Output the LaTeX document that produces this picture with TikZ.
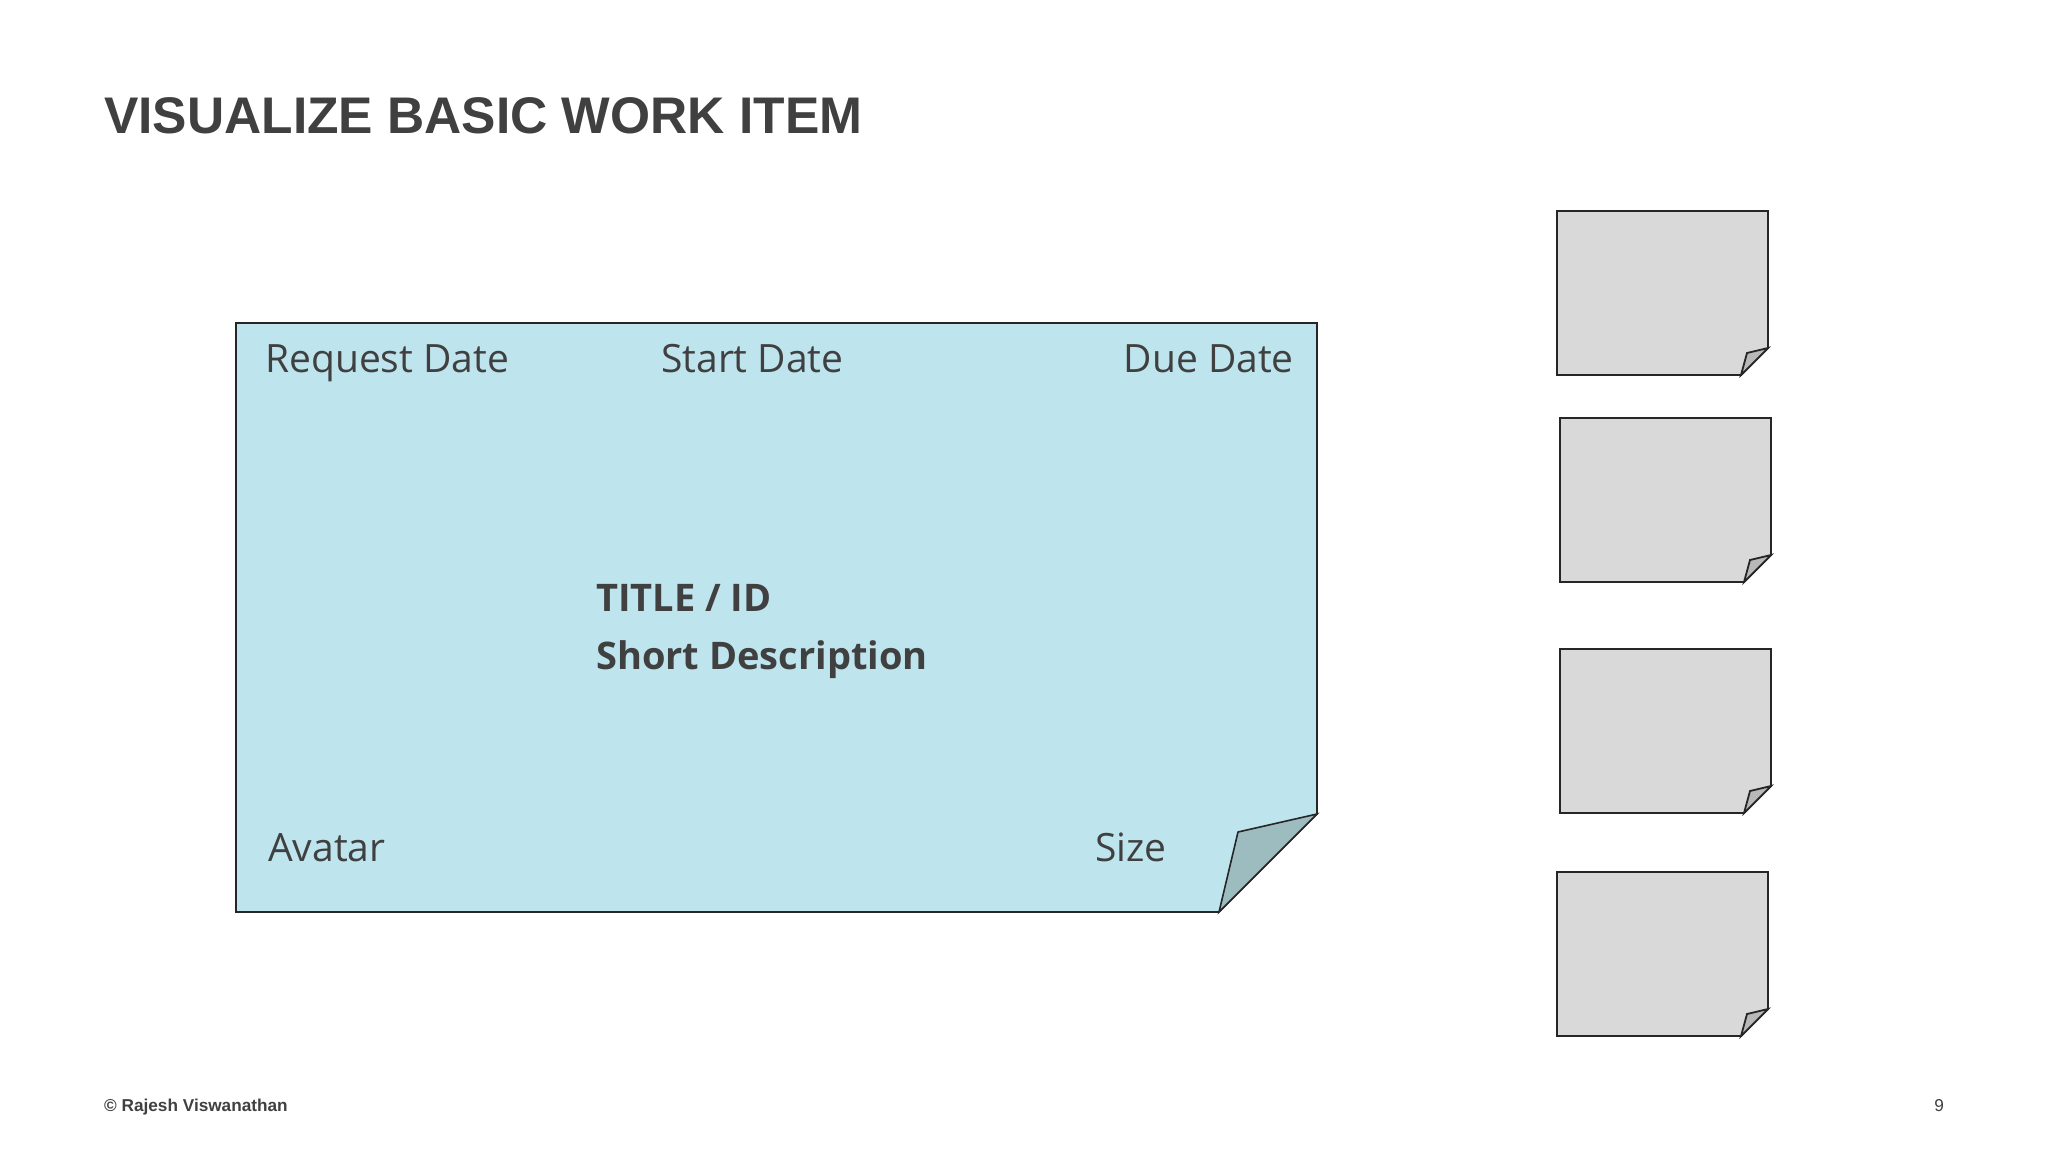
\documentclass[tikz,border=0pt]{standalone}
\usepackage{fontspec}
\setmainfont{Liberation Sans}
\newfontfamily\cardfont{Open Sans}
\definecolor{txt}{HTML}{404040}
\definecolor{cardblue}{HTML}{BEE4EE}
\definecolor{flapblue}{HTML}{9DBCC0}
\definecolor{cardgrey}{HTML}{D9D9D9}
\definecolor{flapgrey}{HTML}{B8B8B8}
\tikzset{
  cardline/.style={draw=black!85, line width=1.6pt, line join=miter},
  smallline/.style={draw=black!85, line width=1.8pt, line join=miter},
  lbl/.style={inner sep=0pt, text=txt, font=\cardfont\fontsize{39}{41}\selectfont},
  blbl/.style={inner sep=0pt, text=txt, font=\cardfont\bfseries\fontsize{38}{40}\selectfont},
}
\newcommand{\smallcard}[3]{% name, x, y (top-left)
  \path[fill=cardgrey, smallline] (#2,#3) coordinate (#1)  -- ++(211,0) -- ++(0,137) -- ++(-27,27) -- ++(-184,0) -- cycle;
  \path[fill=flapgrey, smallline] (#2+211,#3+137) -- (#2+190,#3+142) -- (#2+184,#3+164) -- cycle;
}
\begin{document}
\begin{tikzpicture}[x=1pt,y=-1pt]
\useasboundingbox[fill=white] (0,0) rectangle (2048,1152);
\node[anchor=base west, inner sep=0pt, text=txt, font=\bfseries\fontsize{51.5}{54}\selectfont] (title) at (104,133) {VISUALIZE BASIC WORK ITEM};
% main card
\path[fill=cardblue, cardline] (236,323) coordinate (card) -- (1317,323) -- (1317,814) -- (1219,912) -- (236,912) -- cycle;
\path[fill=flapblue, cardline] (1317,814) coordinate (flap) -- (1238,832) -- (1219,912) -- cycle;
\node[lbl, anchor=base west] (req) at (265,372) {Request Date};
\node[lbl, anchor=base west] (start) at (661,372) {Start Date};
\node[lbl, anchor=base east] (due) at (1294,372) {Due Date};
\node[blbl, anchor=base west] (tid) at (596,611) {TITLE / ID};
\node[blbl, anchor=base west] (desc) at (596,669) {Short Description};
\node[lbl, anchor=base west] (avatar) at (268,861) {Avatar};
\node[lbl, anchor=base east] (size) at (1167,861) {Size};
% small cards
\smallcard{c1}{1557}{211}
\smallcard{c2}{1560}{418}
\smallcard{c3}{1560}{649}
\smallcard{c4}{1557}{872}
% footer
\node[anchor=base west, inner sep=0pt, text=txt, font=\bfseries\fontsize{17.2}{19}\selectfont] (copy) at (104,1111) {© Rajesh Viswanathan};
\node[anchor=base east, inner sep=0pt, text=txt, font=\fontsize{17.2}{19}\selectfont] (page) at (1944,1111) {9};
\end{tikzpicture}
\end{document}
